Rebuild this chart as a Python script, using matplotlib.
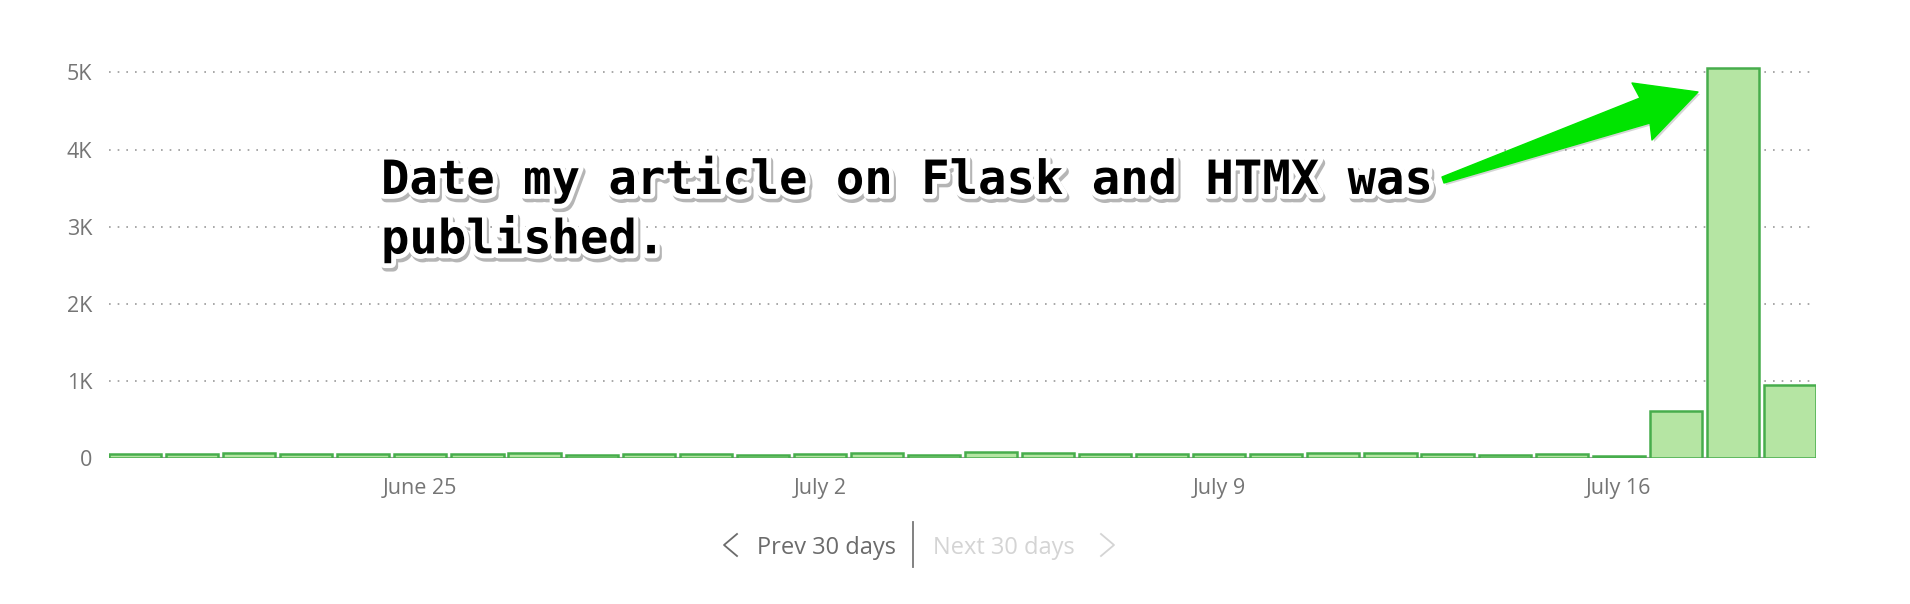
import matplotlib
matplotlib.use("Agg")
import matplotlib.pyplot as plt
import matplotlib.patheffects as pe
from matplotlib.patches import Polygon
from matplotlib.lines import Line2D
import numpy as np

# ---- data ----
dates = ["June 20", "June 21", "June 22", "June 23", "June 24", "June 25", "June 26",
         "June 27", "June 28", "June 29", "June 30", "July 1", "July 2", "July 3",
         "July 4", "July 5", "July 6", "July 7", "July 8", "July 9", "July 10",
         "July 11", "July 12", "July 13", "July 14", "July 15", "July 16", "July 17",
         "July 18", "July 19"]
views = [52, 56, 70, 52, 56, 56, 56, 65, 43, 56, 56, 39, 52, 65, 48, 82, 70, 56,
         52, 52, 52, 65, 65, 56, 39, 52, 30, 610, 5050, 950]
tick_labels = ["June 25", "July 2", "July 9", "July 16"]
ytick_values = [0, 1000, 2000, 3000, 4000, 5000]
ytick_labels = ["0", "1K", "2K", "3K", "4K", "5K"]
annotation = "Date my article on Flask and HTMX was\npublished."

W, H = 1910, 604
fig = plt.figure(figsize=(W / 100, H / 100), dpi=100)
fig.patch.set_facecolor("white")

def fx(x):
    return x / W

def fy(y):
    return 1 - y / H

ax_left, ax_right = 109, 1816
ax_bottom, ax_top = 458.3, 458.3 - 5.2 * 77.2
ax = fig.add_axes([fx(ax_left), fy(ax_bottom), (ax_right - ax_left) / W, (ax_bottom - ax_top) / H])

x = np.arange(len(views))
ax.bar(x, views, width=0.914, color="#b5e5a3", edgecolor="#47ad4c", linewidth=1.8, zorder=3)
ax.set_xlim(-0.457, len(views) - 1 + 0.457)
ax.set_ylim(0, 5200)

for v in ytick_values[1:]:
    ax.axhline(v, color="#9a9a9a", linestyle=(0, (1, 4.2)), linewidth=1.2, zorder=1)
ax.axhline(0, color="#9a9a9a", linewidth=1.5, zorder=2)

for s in ax.spines.values():
    s.set_visible(False)

ax.set_yticks(ytick_values)
ax.set_yticklabels(ytick_labels)
tick_pos = [dates.index(t) for t in tick_labels]
ax.set_xticks(tick_pos)
ax.set_xticklabels(tick_labels)
ax.tick_params(axis="both", length=0, colors="#757575", labelsize=15.5)
ax.tick_params(axis="y", pad=12)
ax.tick_params(axis="x", pad=14)
for lab in ax.get_xticklabels() + ax.get_yticklabels():
    lab.set_fontfamily("Open Sans")

# ---- annotation text ----
fig.text(fx(381), fy(156), annotation, ha="left", va="top",
         fontfamily="DejaVu Sans Mono", fontweight="bold", fontsize=34,
         linespacing=1.3, color="black", zorder=10,
         path_effects=[pe.Stroke(linewidth=7, foreground="#b5b5b5", offset=(1.5, -2.5)),
                       pe.Stroke(linewidth=7, foreground="white"),
                       pe.Normal()])

# ---- arrow ----
pts = [(1444, 183), (1650, 123), (1652, 140), (1698, 92), (1632, 83), (1640, 98), (1442, 177)]
arrow = Polygon([(fx(a), fy(b)) for a, b in pts], closed=True, transform=fig.transFigure,
                facecolor="#00e400", edgecolor="#00e400", linewidth=1, joinstyle="round",
                zorder=11,
                path_effects=[pe.SimplePatchShadow(offset=(1.5, -1.5), shadow_rgbFace="#888888", alpha=0.35),
                              pe.Normal()])
fig.add_artist(arrow)

# ---- footer ----
fig.text(fx(757), fy(548), "Prev 30 days", ha="left", va="center", fontfamily="Open Sans",
         fontsize=17, color="#6b6b6b")
fig.text(fx(933), fy(548), "Next 30 days", ha="left", va="center", fontfamily="Open Sans",
         fontsize=17, color="#d4d4d4")
fig.add_artist(Line2D([fx(913), fx(913)], [fy(522), fy(567)], transform=fig.transFigure,
                      color="#777777", linewidth=1.3))
fig.add_artist(Line2D([fx(737), fx(724), fx(737)], [fy(534), fy(545), fy(556)],
                      transform=fig.transFigure, color="#6b6b6b", linewidth=1.3))
fig.add_artist(Line2D([fx(1101), fx(1114), fx(1101)], [fy(534), fy(545), fy(556)],
                      transform=fig.transFigure, color="#d4d4d4", linewidth=1.3))

fig.savefig("out.png", dpi=100, facecolor="white")
